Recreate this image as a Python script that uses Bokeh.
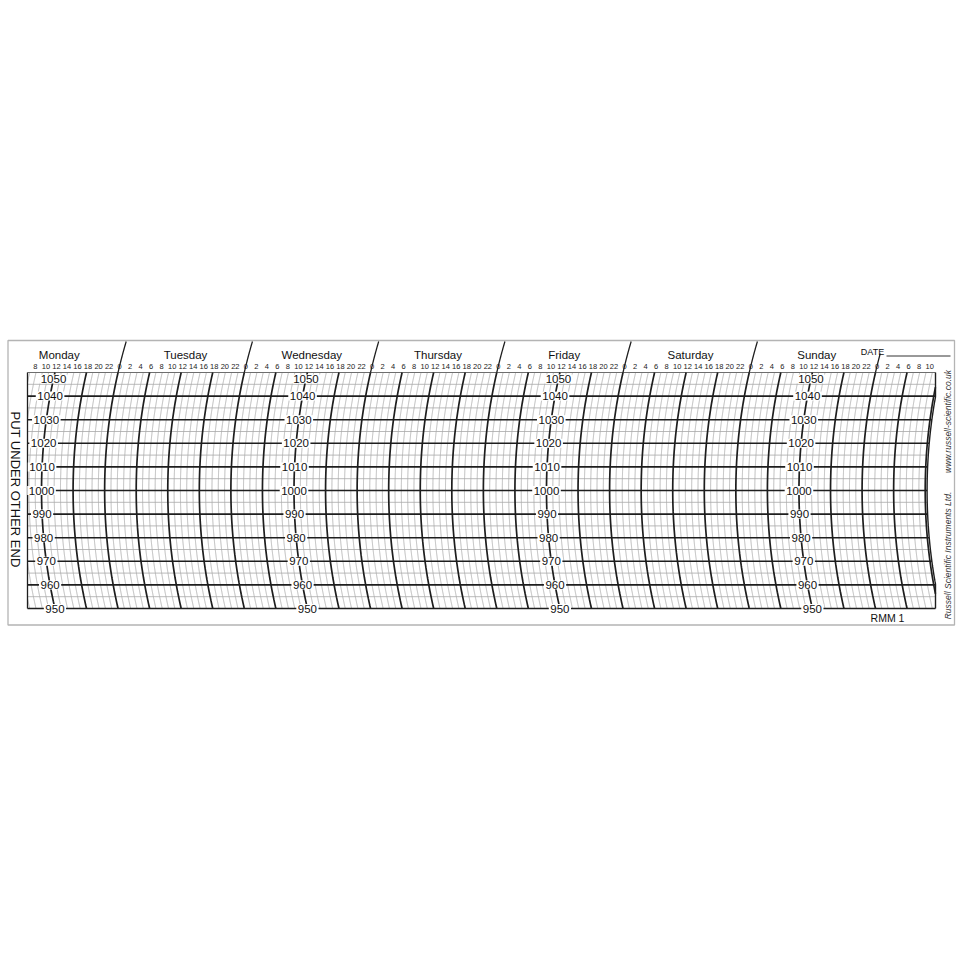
import numpy as np
from bokeh.plotting import figure
from bokeh.models import Range1d
from bokeh.embed import file_html
from bokeh.resources import INLINE
from bokeh.core.properties import value

# ---------------- data ----------------
DAYS = ["Monday", "Tuesday", "Wednesday", "Thursday", "Friday", "Saturday", "Sunday"]
DAY_CENTRES = [12, 36, 60, 84, 108, 132, 156]          # hours since Monday 00:00
HOUR_TICKS = list(range(8, 179, 2))                    # 2-hourly tick marks
HOUR_TEXT = [str(h % 24) for h in HOUR_TICKS]
MIDNIGHTS = [24, 48, 72, 96, 120, 144, 168]
PRESS_MAJOR = [950, 960, 970, 980, 990, 1000, 1010, 1020, 1030, 1040, 1050]
PRESS_MINOR = [955, 965, 975, 985, 995, 1005, 1015, 1025, 1035, 1045]
PRESS_TEXT = ["950", "960", "970", "980", "990", "1000", "1010", "1020", "1030", "1040", "1050"]
SCALE_HOURS = [12, 60, 108, 156]                       # arcs carrying the pressure scale
HEAVY_HOURS = list(range(0, 186, 6))                   # 6-hourly heavy arcs
SUBDIVISIONS = 5                                       # thin arcs per 6 h

# ---------------- calibration (page pixels) ----------------
PX_H = 5.26          # px per hour
PX_P = 2.36          # px per hPa
X_REF, T_REF = 86.0, 18.0
Y_REF, P_REF = 608.0, 950.0
R_ARC = 526.0        # pen-arm radius in px
P_MID = 1000.0
C_ARC = np.sqrt(R_ARC ** 2 - (50 * PX_P) ** 2)


def px_t(x):
    return T_REF + (x - X_REF) / PX_H


def px_p(y):
    return P_REF + (Y_REF - y) / PX_P


def shift_h(p):
    dy = (np.asarray(p, dtype=float) - P_MID) * PX_P
    return (np.sqrt(R_ARC ** 2 - dy ** 2) - C_ARC) / PX_H


T_LEFT = px_t(27)
T_RIGHT_STRAIGHT = px_t(935)
T_RIGHT_ARC = px_t(940)


def t_right(p):
    return np.minimum(T_RIGHT_STRAIGHT, T_RIGHT_ARC - shift_h(p))


W = H = 960
p = figure(width=W, height=H, output_backend="svg", toolbar_location=None,
           x_range=Range1d(px_t(0), px_t(W)), y_range=Range1d(px_p(H), px_p(0)),
           x_axis_type=None, y_axis_type=None, min_border=0)
p.outline_line_color = None
p.grid.visible = False
p.background_fill_color = "white"
p.border_fill_color = "white"

FONT = value("Liberation Sans")
DARK = "#1e1e1e"
THIN = "#a8a8a8"

# card border
p.quad(left=[px_t(7.5)], right=[px_t(954)], bottom=[px_p(624.5)], top=[px_p(340)],
       fill_color=None, line_color="#b4b4b4", line_width=1.3)

ps = np.linspace(950, 1050, 481)


def clipped(t):
    ts = t - shift_h(ps)
    ok = (ts >= T_LEFT) & (ts <= t_right(ps))
    if not ok.any():
        return None
    return np.where(ok, ts, np.nan)


thin_x, thin_y, heavy_x, heavy_y = [], [], [], []
for h in HEAVY_HOURS:
    xs = clipped(h)
    if xs is not None:
        heavy_x.append(xs); heavy_y.append(ps)
    for j in range(1, SUBDIVISIONS):
        xs = clipped(h + j * 6.0 / SUBDIVISIONS)
        if xs is not None:
            thin_x.append(xs); thin_y.append(ps)

p.multi_line(thin_x, thin_y, line_color=THIN, line_width=0.8)

# horizontal pressure lines
minor_p = np.array(PRESS_MINOR, dtype=float)
p.segment(x0=[T_LEFT] * len(minor_p), y0=minor_p, x1=t_right(minor_p), y1=minor_p,
          line_color=THIN, line_width=0.8)
major_p = np.array(PRESS_MAJOR[:-1], dtype=float)
p.segment(x0=[T_LEFT] * len(major_p), y0=major_p, x1=t_right(major_p), y1=major_p,
          line_color=DARK, line_width=1.6)
top_p = np.array(PRESS_MAJOR[-1:], dtype=float)
p.segment(x0=[T_LEFT], y0=top_p, x1=t_right(top_p), y1=top_p,
          line_color="#6e6e6e", line_width=1.0)

p.multi_line(heavy_x, heavy_y, line_color=DARK, line_width=1.7)

# chart edges
p.segment(x0=[T_LEFT], y0=[950], x1=[T_LEFT], y1=[1050], line_color=DARK, line_width=1.3)
p.line(t_right(ps), ps, line_color=DARK, line_width=1.4)

# midnight slashes above the grid
sl_x, sl_y = [], []
for i, t in enumerate(MIDNIGHTS):
    top = px_p(341) if i < len(MIDNIGHTS) - 1 else px_p(353)
    pp = np.linspace(1050, top, 30)
    sl_x.append(t - shift_h(pp)); sl_y.append(pp)
p.multi_line(sl_x, sl_y, line_color=DARK, line_width=1.3)

# hour labels
p_hour = px_p(365.5)
hx = np.array(HOUR_TICKS, dtype=float) - shift_h(p_hour)
p.text(x=hx, y=[p_hour] * len(hx), text=HOUR_TEXT, text_align="center",
       text_baseline="middle", text_font=FONT, text_font_size="7.5px", text_color="#222222")

# day labels
p_day = px_p(354.5)
dx = np.array(DAY_CENTRES, dtype=float) - shift_h(p_day)
p.text(x=dx, y=[p_day] * len(dx), text=DAYS, text_align="center", text_baseline="middle",
       text_font=FONT, text_font_size="11.5px", text_color="#111111")

# pressure scales
lx, ly, lt, lw = [], [], [], []
for t in SCALE_HOURS:
    for pv, txt in zip(PRESS_MAJOR, PRESS_TEXT):
        off = 6.5 if pv == PRESS_MAJOR[-1] else 0.0
        pe = pv - off / PX_P
        lx.append(t - float(shift_h(pe))); ly.append(pe); lt.append(txt)
        lw.append(len(txt) * 6.4 + 3)
p.rect(x=lx, y=ly, width=lw, height=[9] * len(lx), width_units="screen",
       height_units="screen", fill_color="white", line_color=None)
p.text(x=lx, y=ly, text=lt, text_align="center", text_baseline="middle",
       text_font=FONT, text_font_size="11.5px", text_color="#111111")

# side texts
p.text(x=[px_t(15)], y=[px_p(489)], text=["PUT UNDER OTHER END"], angle=-np.pi / 2,
       text_align="center", text_baseline="middle", text_font=FONT, text_font_size="13px",
       text_color="#111111")
p.text(x=[px_t(947.5), px_t(947.5)], y=[px_p(421), px_p(555)],
       text=["www.russell-scientific.co.uk", "Russell Scientific Instruments Ltd."],
       angle=np.pi / 2, text_align="center", text_baseline="middle", text_font=FONT,
       text_font_size="8.5px", text_font_style="italic", text_color="#333333")
p.text(x=[px_t(872)], y=[px_p(351.5)], text=["DATE"], text_align="center",
       text_baseline="middle", text_font=FONT, text_font_size="9px", text_color="#111111")
p.segment(x0=[px_t(886)], y0=[px_p(355.5)], x1=[px_t(950)], y1=[px_p(355.5)],
          line_color="#333333", line_width=1)
p.text(x=[px_t(887)], y=[px_p(617)], text=["RMM 1"], text_align="center",
       text_baseline="middle", text_font=FONT, text_font_size="10.5px", text_color="#111111")

open("out.html", "w").write(file_html(p, INLINE))
